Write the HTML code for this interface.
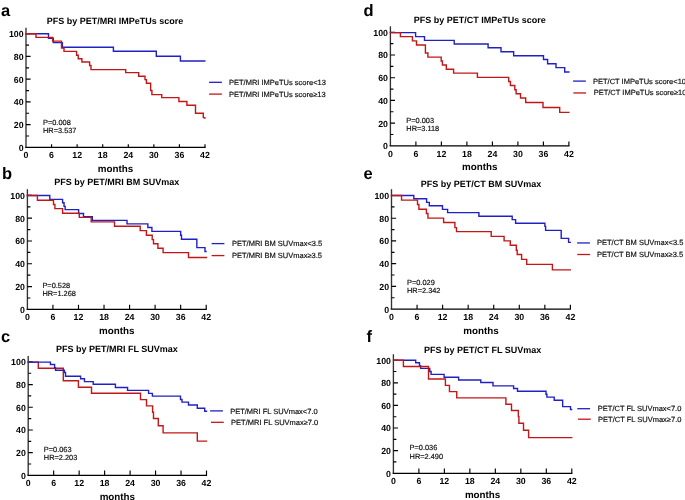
<!DOCTYPE html>
<html><head><meta charset="utf-8"><style>
html,body{margin:0;padding:0;background:#fff;overflow:hidden;}
svg{display:block;will-change:transform;}
text{font-family:"Liberation Sans", sans-serif;text-rendering:geometricPrecision;}
.let{font-size:16.5px;font-weight:bold;fill:#000;}
.ttl{font-size:9px;font-weight:bold;fill:#000;text-anchor:middle;}
.yl{font-size:8.8px;font-weight:bold;fill:#000;text-anchor:end;}
.xl{font-size:8.8px;font-weight:bold;fill:#000;text-anchor:middle;}
.mo{font-size:9.8px;font-weight:bold;fill:#000;text-anchor:middle;}
.lt{font-size:7.5px;fill:#111;stroke:#111;stroke-width:0.18px;}
.pt{font-size:7.4px;fill:#111;stroke:#111;stroke-width:0.18px;}
.ya{stroke:#333;stroke-width:1.35;fill:none;}
.xa{stroke:#000;stroke-width:1.25;fill:none;}
.tk{stroke:#000;stroke-width:1.15;fill:none;}
.lg{stroke-width:1.3;fill:none;}
.cv{stroke-width:1.4;fill:none;stroke-linejoin:miter;stroke-linecap:square;}
</style></head>
<body><svg width="685" height="500" viewBox="0 0 685 500">
<rect width="685" height="500" fill="#fff"/>
<text x="1.0" y="15.6" class="let">a</text>
<text x="115.10" y="23.65" class="ttl">PFS by PET/MRI IMPeTUs score</text>
<path d="M26.0,27.7V147.4" class="ya"/>
<path d="M25.2,147.4H205.6" class="xa"/>
<path d="M26.0,136.03h3.0M26.0,124.66h4.6M26.0,113.29h3.0M26.0,101.92h4.6M26.0,90.55h3.0M26.0,79.18h4.6M26.0,67.81h3.0M26.0,56.44h4.6M26.0,45.07h3.0M26.0,33.70h4.6M51.57,147.4v-3.2M77.14,147.4v-3.2M102.71,147.4v-3.2M128.29,147.4v-3.2M153.86,147.4v-3.2M179.43,147.4v-3.2M205.00,147.4v-3.2" class="tk"/>
<text x="23.60" y="150.80" class="yl">0</text>
<text x="23.60" y="128.06" class="yl">20</text>
<text x="23.60" y="105.32" class="yl">40</text>
<text x="23.60" y="82.58" class="yl">60</text>
<text x="23.60" y="59.84" class="yl">80</text>
<text x="23.60" y="37.10" class="yl">100</text>
<text x="26.00" y="158.20" class="xl">0</text>
<text x="51.57" y="158.20" class="xl">6</text>
<text x="77.14" y="158.20" class="xl">12</text>
<text x="102.71" y="158.20" class="xl">18</text>
<text x="128.29" y="158.20" class="xl">24</text>
<text x="153.86" y="158.20" class="xl">30</text>
<text x="179.43" y="158.20" class="xl">36</text>
<text x="205.00" y="158.20" class="xl">42</text>
<text x="115.50" y="171.90" class="mo">months</text>
<path d="M209.1,82.3h12.8" stroke="#2020c4" class="lg"/>
<path d="M209.1,94.1h12.8" stroke="#c21717" class="lg"/>
<text x="229.0" y="85.0" class="lt">PET/MRI IMPeTUs score&lt;13</text>
<text x="229.0" y="96.9" class="lt">PET/MRI IMPeTUs score≥13</text>
<text x="43.0" y="125.1" class="pt">P=0.008</text>
<text x="43.0" y="133.4" class="pt">HR=3.537</text>
<path d="M26,33.7H48.5V38.2H53.3V42.6H62.4V47.2H113.4V51.3H156.3V56.2H180.4V61H204.8" stroke="#2020c4" class="cv"/>
<path d="M26,33.7H36V37.35H52.6V41.1H61.5V48.1H64V51.4H76.6V55.3H78.25V58.8H81.9V62H89.6V65.5H91V69.6H125.7V72.6H138.7V76.3H145V79.6H146.4V83.25H150.65V90.5H151.9V94.6H161.75V97.6H178.9V101.46H186.9V105.3H195.5V113.2H203.3V117.4L205,118" stroke="#c21717" class="cv"/>
<text x="1.9" y="178.8" class="let">b</text>
<text x="116.80" y="185.0" class="ttl">PFS by PET/MRI BM SUVmax</text>
<path d="M27.4,189.2V309.35" class="ya"/>
<path d="M26.599999999999998,309.35H206.79999999999998" class="xa"/>
<path d="M27.4,297.96h3.0M27.4,286.56h4.6M27.4,275.17h3.0M27.4,263.77h4.6M27.4,252.38h3.0M27.4,240.98h4.6M27.4,229.59h3.0M27.4,218.19h4.6M27.4,206.80h3.0M27.4,195.40h4.6M52.94,309.35v-4.6M78.49,309.35v-4.6M104.03,309.35v-4.6M129.57,309.35v-4.6M155.11,309.35v-4.6M180.66,309.35v-4.6M206.20,309.35v-4.6" class="tk"/>
<text x="25.00" y="312.75" class="yl">0</text>
<text x="25.00" y="289.96" class="yl">20</text>
<text x="25.00" y="267.17" class="yl">40</text>
<text x="25.00" y="244.38" class="yl">60</text>
<text x="25.00" y="221.59" class="yl">80</text>
<text x="25.00" y="198.80" class="yl">100</text>
<text x="27.40" y="320.15" class="xl">0</text>
<text x="52.94" y="320.15" class="xl">6</text>
<text x="78.49" y="320.15" class="xl">12</text>
<text x="104.03" y="320.15" class="xl">18</text>
<text x="129.57" y="320.15" class="xl">24</text>
<text x="155.11" y="320.15" class="xl">30</text>
<text x="180.66" y="320.15" class="xl">36</text>
<text x="206.20" y="320.15" class="xl">42</text>
<text x="116.80" y="333.85" class="mo">months</text>
<path d="M211.6,243.6h12.8" stroke="#2020c4" class="lg"/>
<path d="M211.6,255.6h12.8" stroke="#c21717" class="lg"/>
<text x="232.0" y="246.2" class="lt">PET/MRI BM SUVmax&lt;3.5</text>
<text x="232.0" y="257.9" class="lt">PET/MRI BM SUVmax≥3.5</text>
<text x="42.4" y="287.7" class="pt">P=0.528</text>
<text x="42.4" y="296.0" class="pt">HR=1.268</text>
<path d="M27.4,195.5H49.8V199.35H62.6V202.8H64.05V206.4H65.15V209.6H78.6V213.5H83.5V216.6H92.3V220.4H127V223.9H147.85V227.5H151.9V231.4H180.65V235.3H181.5V239.3H196.85V247.6H205V251.5H206" stroke="#2020c4" class="cv"/>
<path d="M27.4,195.5H37.4V200.2H53.5V204.45H54.9V208.6H62.6V213.2H79.3V217.4H91.2V221.9H114.5V226.3H140.2V230.65H146.4V235.2H152.2V239.6H153.5V243.7H157.9V248.2H163.1V252.6H188.5V257.5H206.5" stroke="#c21717" class="cv"/>
<text x="0.9" y="341.9" class="let">c</text>
<text x="116.95" y="352.2" class="ttl">PFS by PET/MRI FL SUVmax</text>
<path d="M28.2,356.0V475.35" class="ya"/>
<path d="M27.4,475.35H207.1" class="xa"/>
<path d="M28.2,464.00h3.0M28.2,452.66h4.6M28.2,441.31h3.0M28.2,429.97h4.6M28.2,418.62h3.0M28.2,407.28h4.6M28.2,395.94h3.0M28.2,384.59h4.6M28.2,373.25h3.0M28.2,361.90h4.6M53.67,475.35v-4.8M79.14,475.35v-4.8M104.61,475.35v-4.8M130.09,475.35v-4.8M155.56,475.35v-4.8M181.03,475.35v-4.8M206.50,475.35v-4.8" class="tk"/>
<text x="25.80" y="478.75" class="yl">0</text>
<text x="25.80" y="456.06" class="yl">20</text>
<text x="25.80" y="433.37" class="yl">40</text>
<text x="25.80" y="410.68" class="yl">60</text>
<text x="25.80" y="387.99" class="yl">80</text>
<text x="25.80" y="365.30" class="yl">100</text>
<text x="28.20" y="486.15" class="xl">0</text>
<text x="53.67" y="486.15" class="xl">6</text>
<text x="79.14" y="486.15" class="xl">12</text>
<text x="104.61" y="486.15" class="xl">18</text>
<text x="130.09" y="486.15" class="xl">24</text>
<text x="155.56" y="486.15" class="xl">30</text>
<text x="181.03" y="486.15" class="xl">36</text>
<text x="206.50" y="486.15" class="xl">42</text>
<text x="117.35" y="499.85" class="mo">months</text>
<path d="M210.1,410.9h12.8" stroke="#2020c4" class="lg"/>
<path d="M211.0,422.3h12.8" stroke="#c21717" class="lg"/>
<text x="230.2" y="413.6" class="lt">PET/MRI FL SUVmax&lt;7.0</text>
<text x="231.1" y="424.7" class="lt">PET/MRI FL SUVmax≥7.0</text>
<text x="43.8" y="451.8" class="pt">P=0.063</text>
<text x="43.8" y="460.0" class="pt">HR=2.203</text>
<path d="M28.2,362.1H38.3V368.3H63.3V380.7H78.4V387.3H91.5V393.3H140.5V399.6H146.5V405.9H152.6V412.2H153.5V418.5H158.3V425.8H163.1V432.9H197.3V441.1H206.5" stroke="#c21717" class="cv"/>
<path d="M28.2,362.1H50.4V364.5H54.6V367.8H55.5V370.3H64.4V372.5H65.5V376.2H80.6V378.7H84.45V381.6H93.2V384.3H115.4V387.45H127.55V390.4H148.6V393.4H152.4V396.15H180.5V399.45H182V402.1H188.5V405H197.3V408.2H204.7V411.3H206.5" stroke="#2020c4" class="cv"/>
<text x="363.4" y="15.6" class="let">d</text>
<text x="479.65" y="23.25" class="ttl">PFS by PET/CT IMPeTUs score</text>
<path d="M390.4,26.3V145.85" class="ya"/>
<path d="M389.59999999999997,145.85H569.5" class="xa"/>
<path d="M390.4,134.50h3.0M390.4,123.14h4.6M390.4,111.78h3.0M390.4,100.43h4.6M390.4,89.07h3.0M390.4,77.72h4.6M390.4,66.36h3.0M390.4,55.01h4.6M390.4,43.66h3.0M390.4,32.30h4.6M415.90,145.85v-4.3M441.40,145.85v-4.3M466.90,145.85v-4.3M492.40,145.85v-4.3M517.90,145.85v-4.3M543.40,145.85v-4.3M568.90,145.85v-4.3" class="tk"/>
<text x="388.00" y="149.25" class="yl">0</text>
<text x="388.00" y="126.54" class="yl">20</text>
<text x="388.00" y="103.83" class="yl">40</text>
<text x="388.00" y="81.12" class="yl">60</text>
<text x="388.00" y="58.41" class="yl">80</text>
<text x="388.00" y="35.70" class="yl">100</text>
<text x="390.40" y="156.65" class="xl">0</text>
<text x="415.90" y="156.65" class="xl">6</text>
<text x="441.40" y="156.65" class="xl">12</text>
<text x="466.90" y="156.65" class="xl">18</text>
<text x="492.40" y="156.65" class="xl">24</text>
<text x="517.90" y="156.65" class="xl">30</text>
<text x="543.40" y="156.65" class="xl">36</text>
<text x="568.90" y="156.65" class="xl">42</text>
<text x="479.65" y="170.35" class="mo">months</text>
<path d="M573.05,81.1h12.8" stroke="#2020c4" class="lg"/>
<path d="M573.3,92.95h12.8" stroke="#c21717" class="lg"/>
<text x="593.0" y="83.6" class="lt">PET/CT IMPeTUs score&lt;10</text>
<text x="593.7" y="95.2" class="lt">PET/CT IMPeTUs score≥10</text>
<text x="406.3" y="123.4" class="pt">P=0.003</text>
<text x="406.3" y="131.4" class="pt">HR=3.118</text>
<path d="M390.5,32.3H415.6V36.3H424.5V40.0H454.2V43.6H488.1V47.4H501V51.4H513.65V55.45H543.5V59.2H547.6V63.4H556V67.3H564.7V71.7H568.85" stroke="#2020c4" class="cv" transform="translate(0,0.35)"/>
<path d="M390.5,32.3H400.4V36.3H412.45V40.5H416.5V44.6H425.4V52.6H427.9V56.8H441.2V60.6H442.4V64.6H446.3V68.9H453.6V72.8H477.4V77.05H508.7V81.2H510.4V85.1H514.8V89.45H516.1V93.4H520.5V97.7H525.7V102.1H543V107.1H559.7V112H568.85" stroke="#c21717" class="cv" transform="translate(0,0.35)"/>
<text x="363.4" y="178.8" class="let">e</text>
<text x="480.95" y="186.6" class="ttl">PFS by PET/CT BM SUVmax</text>
<path d="M391.5,189.2V309.1" class="ya"/>
<path d="M390.7,309.1H571.0" class="xa"/>
<path d="M391.5,297.74h3.0M391.5,286.38h4.6M391.5,275.02h3.0M391.5,263.66h4.6M391.5,252.30h3.0M391.5,240.94h4.6M391.5,229.58h3.0M391.5,218.22h4.6M391.5,206.86h3.0M391.5,195.50h4.6M417.06,309.1v-4.4M442.61,309.1v-4.4M468.17,309.1v-4.4M493.73,309.1v-4.4M519.29,309.1v-4.4M544.84,309.1v-4.4M570.40,309.1v-4.4" class="tk"/>
<text x="389.10" y="312.50" class="yl">0</text>
<text x="389.10" y="289.78" class="yl">20</text>
<text x="389.10" y="267.06" class="yl">40</text>
<text x="389.10" y="244.34" class="yl">60</text>
<text x="389.10" y="221.62" class="yl">80</text>
<text x="389.10" y="198.90" class="yl">100</text>
<text x="391.50" y="319.90" class="xl">0</text>
<text x="417.06" y="319.90" class="xl">6</text>
<text x="442.61" y="319.90" class="xl">12</text>
<text x="468.17" y="319.90" class="xl">18</text>
<text x="493.73" y="319.90" class="xl">24</text>
<text x="519.29" y="319.90" class="xl">30</text>
<text x="544.84" y="319.90" class="xl">36</text>
<text x="570.40" y="319.90" class="xl">42</text>
<text x="480.95" y="333.60" class="mo">months</text>
<path d="M577.1,242.95h12.8" stroke="#2020c4" class="lg"/>
<path d="M577.3,254.5h12.8" stroke="#c21717" class="lg"/>
<text x="597.0" y="245.3" class="lt">PET/CT BM SUVmax&lt;3.5</text>
<text x="597.0" y="256.7" class="lt">PET/CT BM SUVmax≥3.5</text>
<text x="407.0" y="284.65" class="pt">P=0.029</text>
<text x="407.0" y="293.0" class="pt">HR=2.342</text>
<path d="M391.5,195.5H413.8V198.8H426.6V202.4H429.3V205.7H442.5V209.35H447.6V212.6H478.9V216.3H512.2V219.6H515.6V223.3H544.9V226.4H545.6V230.4H561.2V238.4H568.6V242.4H570.3" stroke="#2020c4" class="cv"/>
<path d="M391.5,195.5H401.55V200.1H417.5V204.45H418.9V209.2H426.4V213.5H427.95V218.1H443.6V222.5H454.9V227.6H456.5V231.6H491.2V236.35H504.1V240.9H510.3V245.3H516.3V250.2H517.2V254.5H521.6V259.4H526.7V264.4H552.4V269.9H570.25" stroke="#c21717" class="cv"/>
<text x="366.6" y="341.9" class="let">f</text>
<text x="482.60" y="352.6" class="ttl">PFS by PET/CT FL SUVmax</text>
<path d="M393.4,354.2V473.25" class="ya"/>
<path d="M392.59999999999997,473.25H572.4" class="xa"/>
<path d="M393.4,461.94h3.0M393.4,450.64h4.6M393.4,439.33h3.0M393.4,428.03h4.6M393.4,416.73h3.0M393.4,405.42h4.6M393.4,394.12h3.0M393.4,382.81h4.6M393.4,371.50h3.0M393.4,360.20h4.6M418.89,473.25v-4.8M444.37,473.25v-4.8M469.86,473.25v-4.8M495.34,473.25v-4.8M520.83,473.25v-4.8M546.31,473.25v-4.8M571.80,473.25v-4.8" class="tk"/>
<text x="391.00" y="476.65" class="yl">0</text>
<text x="391.00" y="454.04" class="yl">20</text>
<text x="391.00" y="431.43" class="yl">40</text>
<text x="391.00" y="408.82" class="yl">60</text>
<text x="391.00" y="386.21" class="yl">80</text>
<text x="391.00" y="363.60" class="yl">100</text>
<text x="393.40" y="484.05" class="xl">0</text>
<text x="418.89" y="484.05" class="xl">6</text>
<text x="444.37" y="484.05" class="xl">12</text>
<text x="469.86" y="484.05" class="xl">18</text>
<text x="495.34" y="484.05" class="xl">24</text>
<text x="520.83" y="484.05" class="xl">30</text>
<text x="546.31" y="484.05" class="xl">36</text>
<text x="571.80" y="484.05" class="xl">42</text>
<text x="482.60" y="497.75" class="mo">months</text>
<path d="M577.3,408.7h12.8" stroke="#2020c4" class="lg"/>
<path d="M578.0,419.2h12.8" stroke="#c21717" class="lg"/>
<text x="597.8" y="411.0" class="lt">PET/CT FL SUVmax&lt;7.0</text>
<text x="598.1" y="421.6" class="lt">PET/CT FL SUVmax≥7.0</text>
<text x="409.6" y="450.1" class="pt">P=0.036</text>
<text x="409.6" y="458.6" class="pt">HR=2.490</text>
<path d="M393.6,360.2H415.7V362.8H419.5V365.7H420.6V368.35H429.75V371.5H431.1V374.35H444.1V377.3H458.6V380H480.8V382.5H493V385.9H513.6V388.55H517.5V391.3H546V394.2H546.9V397.1H554.2V400.25H562.65V406.6H570.5V409.45H571.6" stroke="#2020c4" class="cv"/>
<path d="M393.6,360.2H403.4V366.45H428.5V379H445.4V385.4H449.45V391.6H456.75V397.9H505.9V404.2H511.5V410.45H518.35V416.6H518.9V423.2H523.5V430.3H528.6V437.6H571.75" stroke="#c21717" class="cv"/>
</svg></body></html>
